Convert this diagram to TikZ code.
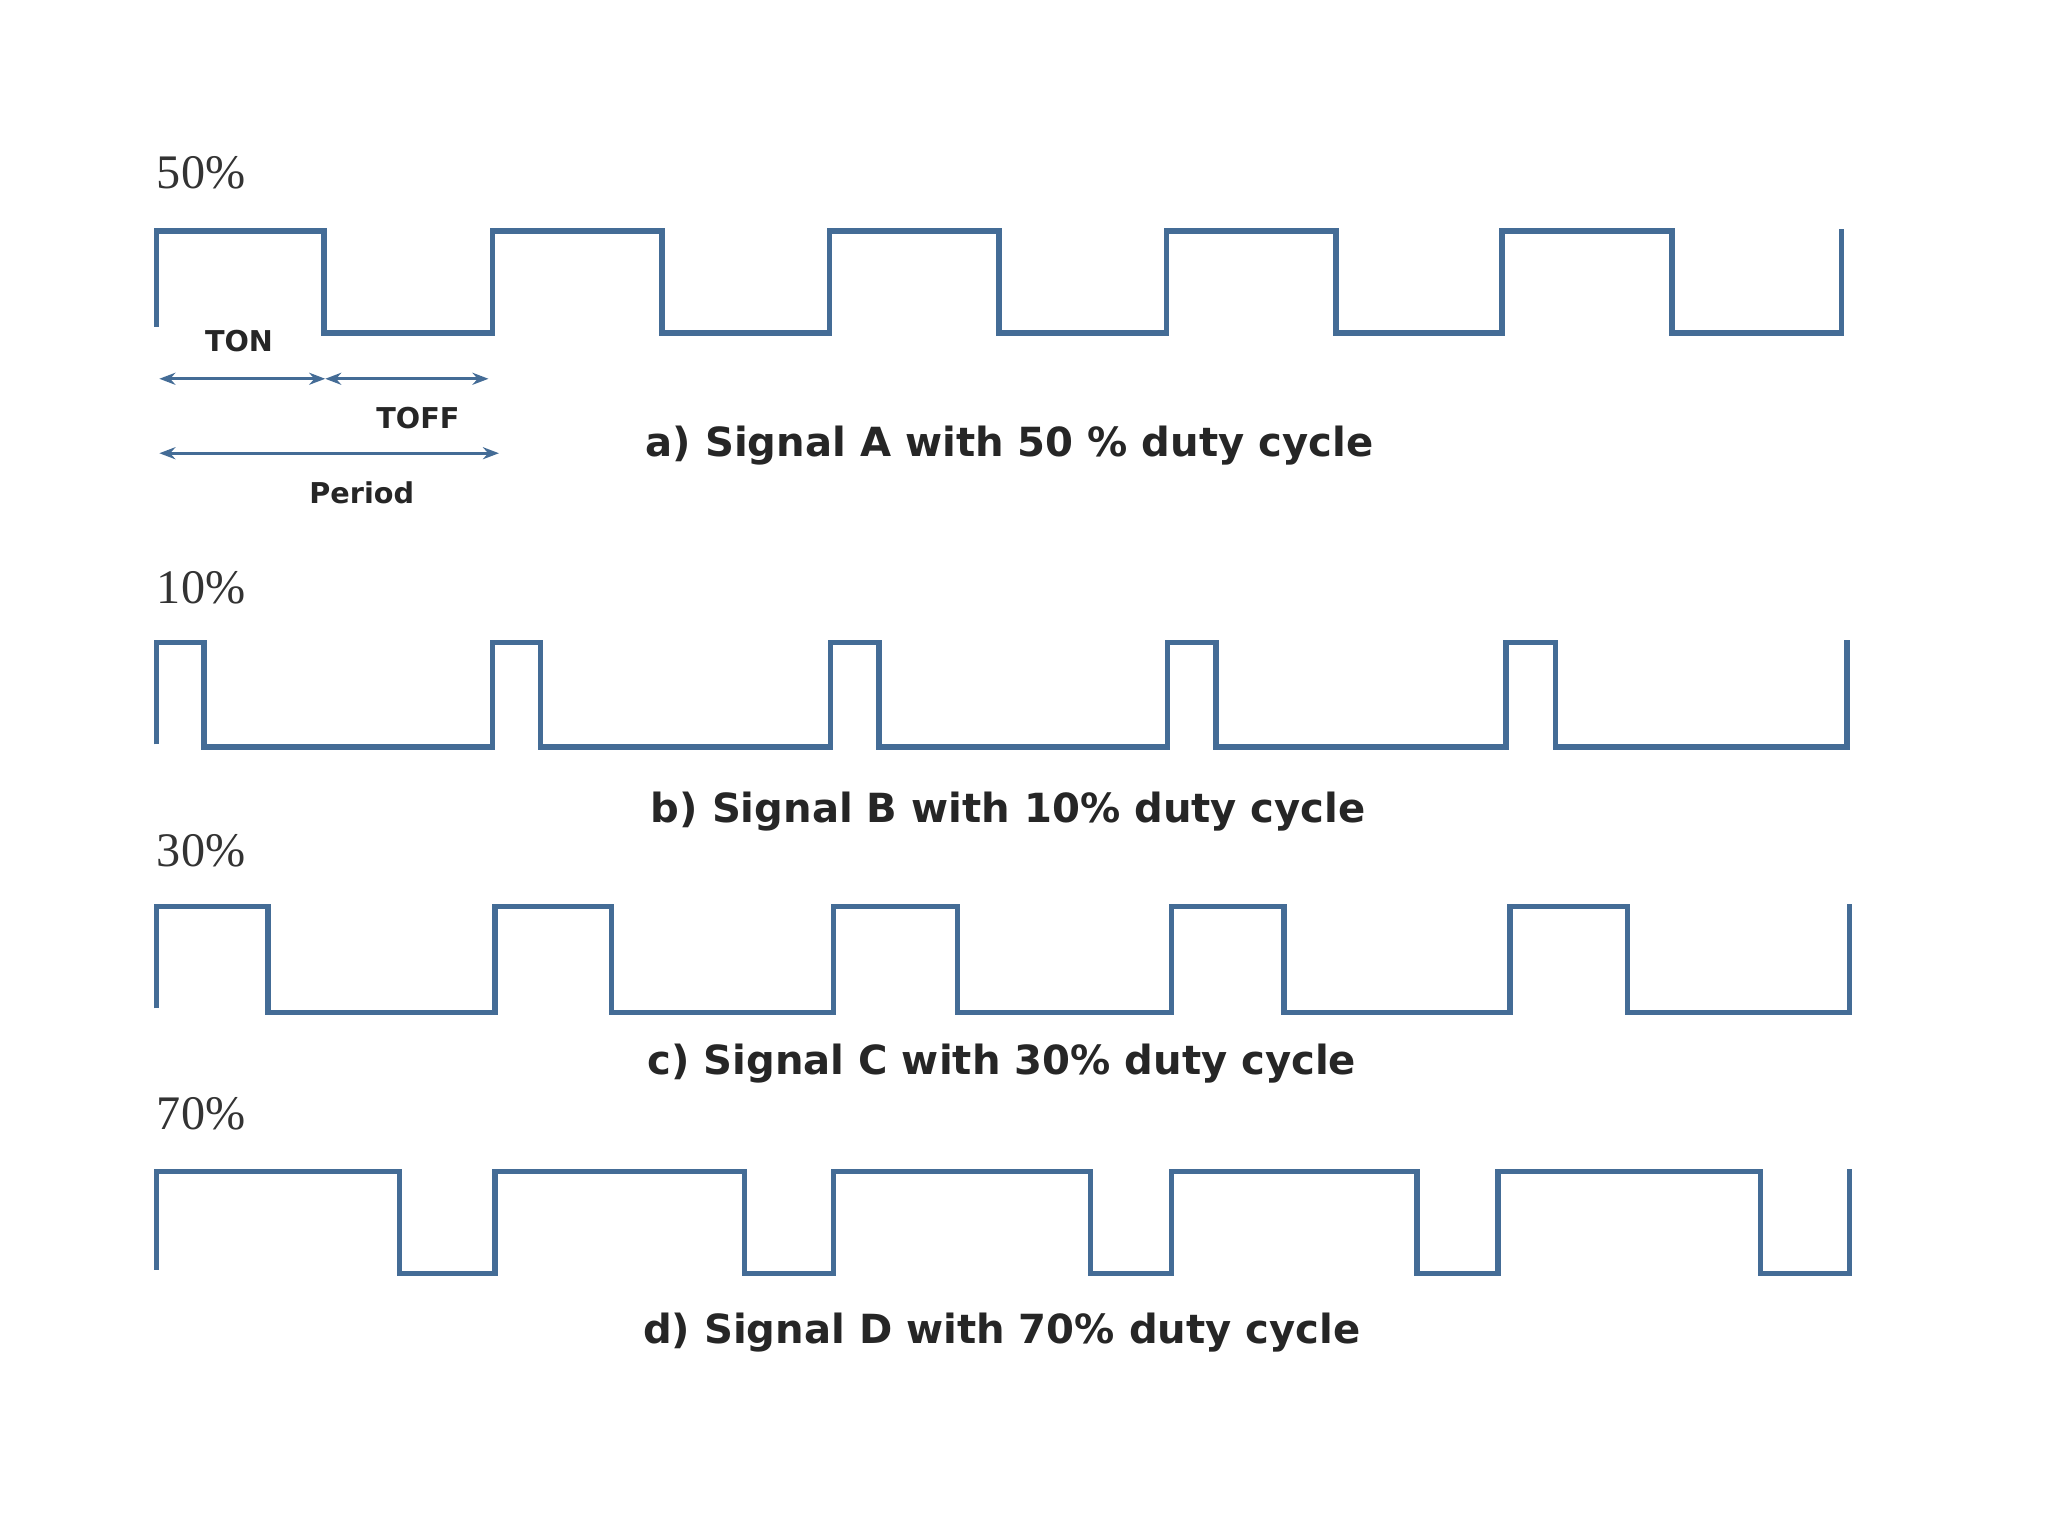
\documentclass[tikz,border=0pt]{standalone}
\usepackage{fontspec}
\setmainfont{Liberation Serif}
\setsansfont{DejaVu Sans}
\usetikzlibrary{arrows.meta}
\definecolor{sig}{RGB}{68,108,150}
\tikzset{
  wave/.style={draw=sig, line width=2.4pt, line join=miter},
  pct/.style={font=\fontsize{21}{21}\selectfont, text=black!80, anchor=center},
  captext/.style={font=\sffamily\bfseries\fontsize{17.5}{18}\selectfont, text=black!85},
  small/.style={font=\sffamily\bfseries\fontsize{12.5}{13}\selectfont, text=black!85},
  dim/.style={draw=sig, line width=1.3pt, {Stealth[length=7pt]}-{Stealth[length=7pt]}}
}
\begin{document}
\begin{tikzpicture}[x=0.02cm, y=-0.02cm]
\useasboundingbox (0,0) rectangle (1568,1176);
\draw[wave] (120,250) -- (120,177) -- (248,177) -- (248,255) -- (377,255) -- (377,177) -- (507,177) -- (507,255) -- (635,255) -- (635,177) -- (765,177) -- (765,255) -- (893,255) -- (893,177) -- (1023,177) -- (1023,255) -- (1150,255) -- (1150,177) -- (1280,177) -- (1280,255) -- (1410,255) -- (1410,175);
\draw[wave] (120,570) -- (120,492) -- (156,492) -- (156,572) -- (377,572) -- (377,492) -- (414,492) -- (414,572) -- (636,572) -- (636,492) -- (673,492) -- (673,572) -- (894,572) -- (894,492) -- (931,492) -- (931,572) -- (1153,572) -- (1153,492) -- (1191,492) -- (1191,572) -- (1414,572) -- (1414,490);
\draw[wave] (120,772) -- (120,694) -- (205,694) -- (205,775) -- (379,775) -- (379,694) -- (468,694) -- (468,775) -- (638,775) -- (638,694) -- (733,694) -- (733,775) -- (897,775) -- (897,694) -- (983,694) -- (983,775) -- (1156,775) -- (1156,694) -- (1246,694) -- (1246,775) -- (1416,775) -- (1416,692);
\draw[wave] (120,972) -- (120,897) -- (306,897) -- (306,975) -- (379,975) -- (379,897) -- (570,897) -- (570,975) -- (638,975) -- (638,897) -- (835,897) -- (835,975) -- (897,975) -- (897,897) -- (1085,897) -- (1085,975) -- (1147,975) -- (1147,897) -- (1348,897) -- (1348,975) -- (1416,975) -- (1416,895);
\node[pct] (pa) at (154,132) {50\%};
\node[pct] (pb) at (154,450) {10\%};
\node[pct] (pc) at (154,651) {30\%};
\node[pct] (pd) at (154,853) {70\%};
\node[captext] (ca) at (773,341) {a) Signal A with 50 \% duty cycle};
\node[captext] (cb) at (772,621) {b) Signal B with 10\% duty cycle};
\node[captext] (cc) at (767,814) {c) Signal C with 30\% duty cycle};
\node[captext] (cd) at (767,1020) {d) Signal D with 70\% duty cycle};
\coordinate (t0) at (122,290);
\coordinate (t1) at (249,290);
\coordinate (t2) at (374,290);
\coordinate (p0) at (122,347);
\coordinate (p1) at (382,347);
\draw[dim] (t0) -- (t1);
\draw[dim] (t1) -- (t2);
\draw[dim] (p0) -- (p1);
\node[small] (ton) at (183,261) {TON};
\node[small] (toff) at (320,320) {TOFF};
\node[small] (per) at (277,377) {Period};
\end{tikzpicture}
\end{document}
